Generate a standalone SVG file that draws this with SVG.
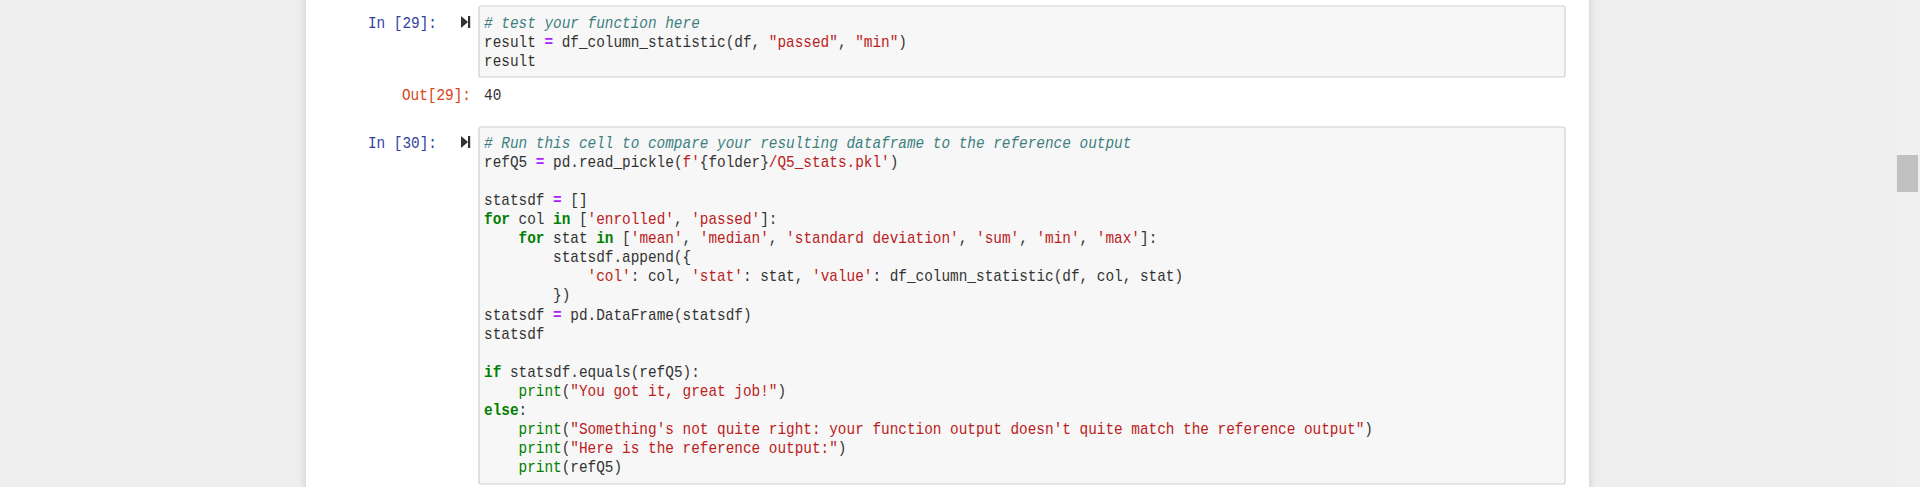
<svg xmlns="http://www.w3.org/2000/svg" width="1920" height="487" viewBox="0 0 1920 487">
<defs>
<style>
text{font-family:"Liberation Mono","DejaVu Sans Mono",monospace;font-size:15.7px;fill:#333;white-space:pre}
.c{fill:#3D7F7F;font-style:italic}
.k{fill:#008000;font-weight:bold}
.s{fill:#BA2121}
.o{fill:#AA22FF;font-weight:bold}
.b{fill:#008000}
.pin{fill:#303F9F}
.pout{fill:#D84315}
.box{fill:#F7F7F7;stroke:#CFCFCF;stroke-width:1.2}
</style>
<linearGradient id="sh" x1="0" x2="1"><stop offset="0" stop-color="#DDD"/><stop offset="1" stop-color="#EEE"/></linearGradient>
</defs>
<rect x="0" y="0" width="1920" height="487" fill="#EEEEEE"/>
<rect x="299" y="0" width="7" height="487" fill="url(#sh)" transform="rotate(180 302.5 243.5)"/>
<rect x="1589" y="0" width="7" height="487" fill="url(#sh)"/>
<rect x="306" y="0" width="1283" height="487" fill="#FFFFFF"/>
<rect x="1897" y="0" width="23" height="487" fill="#F0F0F0"/>
<rect x="1897" y="155" width="21" height="37" fill="#C1C1C1"/>

<g id="cell29">
<rect class="box" x="479" y="6" width="1086" height="71" rx="2"/>
<g transform="translate(437,0) scale(0.917,1)"><text class="pin" x="0" y="27.7" text-anchor="end">In [29]:</text></g>
<g fill="#333"><path d="M461 16 L468 22 L461 28 Z"/><rect x="468" y="16" width="2.2" height="12"/></g>
<g transform="translate(484,0) scale(0.917,1)">
<text y="27.7"><tspan class="c"># test your function here</tspan></text>
<text y="46.7">result <tspan class="o">=</tspan> df_column_statistic(df, <tspan class="s">"passed"</tspan>, <tspan class="s">"min"</tspan>)</text>
<text y="65.7">result</text>
</g>
</g>

<g id="out29">
<g transform="translate(471,0) scale(0.917,1)"><text class="pout" x="0" y="100" text-anchor="end">Out[29]:</text></g>
<g transform="translate(484,0) scale(0.917,1)"><text y="100">40</text></g>
</g>

<g id="cell30">
<rect class="box" x="479" y="127" width="1086" height="357" rx="2"/>
<g transform="translate(437,0) scale(0.917,1)"><text class="pin" x="0" y="147.7" text-anchor="end">In [30]:</text></g>
<g fill="#333"><path d="M461 136 L468 142 L461 148 Z"/><rect x="468" y="136" width="2.2" height="12"/></g>
<g transform="translate(484,0) scale(0.917,1)">
<text y="147.7" class="c"># Run this cell to compare your resulting dataframe to the reference output</text>
<text y="166.8">refQ5 <tspan class="o">=</tspan> pd.read_pickle(<tspan class="s">f'</tspan><tspan class="s" style="fill:#333">{folder}</tspan><tspan class="s">/Q5_stats.pkl'</tspan>)</text>
<text y="205.0">statsdf <tspan class="o">=</tspan> []</text>
<text y="224.1"><tspan class="k">for</tspan> col <tspan class="k">in</tspan> [<tspan class="s">'enrolled'</tspan>, <tspan class="s">'passed'</tspan>]:</text>
<text y="243.2">    <tspan class="k">for</tspan> stat <tspan class="k">in</tspan> [<tspan class="s">'mean'</tspan>, <tspan class="s">'median'</tspan>, <tspan class="s">'standard deviation'</tspan>, <tspan class="s">'sum'</tspan>, <tspan class="s">'min'</tspan>, <tspan class="s">'max'</tspan>]:</text>
<text y="262.3">        statsdf.append({</text>
<text y="281.4">            <tspan class="s">'col'</tspan>: col, <tspan class="s">'stat'</tspan>: stat, <tspan class="s">'value'</tspan>: df_column_statistic(df, col, stat)</text>
<text y="300.5">        })</text>
<text y="319.6">statsdf <tspan class="o">=</tspan> pd.DataFrame(statsdf)</text>
<text y="338.7">statsdf</text>
<text y="376.9"><tspan class="k">if</tspan> statsdf.equals(refQ5):</text>
<text y="396.0">    <tspan class="b">print</tspan>(<tspan class="s">"You got it, great job!"</tspan>)</text>
<text y="415.1"><tspan class="k">else</tspan>:</text>
<text y="434.2">    <tspan class="b">print</tspan>(<tspan class="s">"Something's not quite right: your function output doesn't quite match the reference output"</tspan>)</text>
<text y="453.3">    <tspan class="b">print</tspan>(<tspan class="s">"Here is the reference output:"</tspan>)</text>
<text y="472.4">    <tspan class="b">print</tspan>(refQ5)</text>
</g>
</g>
<g id="connectors"/>
</svg>
